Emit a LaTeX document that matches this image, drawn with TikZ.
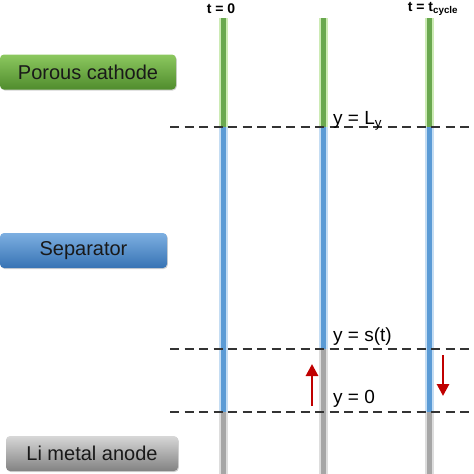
\documentclass[tikz,border=0pt]{standalone}
\usepackage{fontspec}
\setmainfont{Liberation Sans}
\usetikzlibrary{arrows.meta,shadows}
\definecolor{gcore}{HTML}{6AA84F}
\definecolor{gglow}{HTML}{CDEBB5}
\definecolor{bcore}{HTML}{5B9BD5}
\definecolor{bglow}{HTML}{C5DDF3}
\definecolor{ycore}{HTML}{A6A6A6}
\definecolor{yglow}{HTML}{DDDDDD}
\definecolor{arrred}{HTML}{C00000}
\tikzset{
  x=1pt,y=-1pt,
  glow/.style={line width=9pt,draw=#1},
  core/.style={line width=5pt,draw=#1},
  dash line/.style={draw=black!80,line width=1.3pt,dash pattern=on 9pt off 5.5pt},
  label box/.style={rounded corners=4pt,minimum height=35pt,inner sep=0pt,
    font=\fontsize{20}{22}\selectfont,text=black!90,
    drop shadow={shadow xshift=0.8pt,shadow yshift=-1pt,opacity=0.35}},
  ylabel/.style={font=\fontsize{19}{20}\selectfont,anchor=south west,inner sep=0pt},
  tlabel/.style={font=\bfseries\fontsize{14}{15}\selectfont,inner sep=0pt},
  redarrow/.style={draw=arrred,line width=2.8pt,-{Triangle[length=12pt,width=12pt]}}
}
\begin{document}
\begin{tikzpicture}
\useasboundingbox (0,0) rectangle (474,474);
% columns
\foreach \n/\x/\s in {L/223/412,M/323/349,R/429/412}{
  \coordinate (\n top) at (\x,18);
  \coordinate (\n ly) at (\x,127);
  \coordinate (\n s) at (\x,\s);
  \coordinate (\n bot) at (\x,474);
  \draw[glow=gglow] (\n top) -- (\n ly);
  \draw[glow=bglow] (\n ly) -- (\n s);
  \draw[glow=yglow] (\n s) -- (\n bot);
  \draw[core=gcore] (\n top) -- (\n ly);
  \draw[core=bcore] (\n ly) -- (\n s);
  \draw[core=ycore] (\n s) -- (\n bot);
}
% dashed lines
\coordinate (d1a) at (170,127); \coordinate (d1b) at (472,127);
\coordinate (d2a) at (170,349); \coordinate (d2b) at (472,349);
\coordinate (d3a) at (170,412); \coordinate (d3b) at (472,412);
\draw[dash line] (d1a) -- (d1b);
\draw[dash line] (d2a) -- (d2b);
\draw[dash line] (d3a) -- (d3b);
% labels
\node[tlabel] (t0) at (221,9) {t = 0};
\node[tlabel] (tc) at (433,9) {t = t\textsubscript{cycle}};
\node[ylabel] (lyl) at (333,130) {y = L\textsubscript{y}};
\node[ylabel] (stl) at (333,346) {y = s(t)};
\node[ylabel] (y0l) at (333,408) {y = 0};
% boxes
\node[label box,minimum width=176pt,top color={rgb,255:red,140;green,200;blue,95},bottom color={rgb,255:red,80;green,140;blue,45}]
  (cath) at (88,72) {Porous cathode};
\node[label box,minimum width=167pt,top color={rgb,255:red,125;green,175;blue,225},bottom color={rgb,255:red,55;green,115;blue,180}]
  (sep) at (83.5,250.5) {Separator};
\node[label box,minimum width=172pt,top color={rgb,255:red,215;green,215;blue,215},bottom color={rgb,255:red,130;green,130;blue,130}]
  (anode) at (92,453.5) {Li metal anode};
% red arrows
\coordinate (a1s) at (312,406); \coordinate (a1e) at (312,364);
\coordinate (a2s) at (443,355); \coordinate (a2e) at (443,396);
\draw[redarrow] (a1s) -- (a1e);
\draw[redarrow] (a2s) -- (a2e);
\end{tikzpicture}
\end{document}
